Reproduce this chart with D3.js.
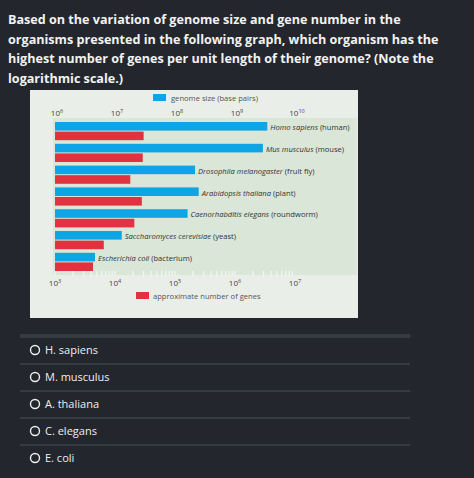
<!DOCTYPE html><html><head><meta charset="utf-8"><script src="https://cdn.jsdelivr.net/npm/d3@7"></script>
<style>body{margin:0;background:#23272d;font-family:"Open Sans",sans-serif}</style></head><body>
<svg id="c" width="474" height="478"></svg>
<script>
const organisms=["Homo sapiens","Mus musculus","Drosophila melanogaster","Arabidopsis thaliana","Caenorhabditis elegans","Saccharomyces cerevisiae","Escherichia coli"];
const common=["human","mouse","fruit fly","plant","roundworm","yeast","bacterium"];
const genomeSize=[3.2e9,2.7e9,2e8,2.3e8,1.5e8,1.2e7,4.3e6];
const geneCount=[3e4,2.9e4,1.8e4,2.8e4,2.1e4,6.5e3,4.3e3];
const topTicks=[1e6,1e7,1e8,1e9,1e10];
const bottomTicks=[1e3,1e4,1e5,1e6,1e7];
const options=["H. sapiens","M. musculus","A. thaliana","C. elegans","E. coli"];
const titleLines=["Based on the variation of genome size and gene number in the","organisms presented in the following graph, which organism has the","highest number of genes per unit length of their genome? (Note the","logarithmic scale.)"];

const svg=d3.select("#c");
svg.selectAll("text.t").data(titleLines).join("text").attr("x",8).attr("y",(d,i)=>24+i*19.5)
 .attr("fill","#f2f2f2").attr("font-size",12.6).attr("font-weight","bold").text(d=>d);
svg.append("rect").attr("x",30).attr("y",90).attr("width",328).attr("height",228).attr("fill","#e9eee9");
svg.append("rect").attr("x",53).attr("y",118).attr("width",304).attr("height",157).attr("fill","#d9e6d8");
const xTop=d3.scaleLog().domain([1e6,1e10]).range([57,297]);
const xBot=d3.scaleLog().domain([1e3,1e7]).range([55,295]);
const y=d3.scaleBand().domain(organisms).range([122,272]).paddingInner(0.12);
const sup=d=>{const e=Math.round(Math.log10(d));return e;};
const tg=svg.append("g").attr("font-size",8).attr("fill","#444");
topTicks.forEach(t=>{const g=tg.append("text").attr("x",xTop(t)).attr("y",116).attr("text-anchor","middle").attr("fill","#444");g.append("tspan").text("10");g.append("tspan").attr("dy",-3).attr("font-size",5.5).text(sup(t));});
bottomTicks.forEach(t=>{const g=tg.append("text").attr("x",xBot(t)).attr("y",286).attr("text-anchor","middle").attr("fill","#444");g.append("tspan").text("10");g.append("tspan").attr("dy",-3).attr("font-size",5.5).text(sup(t));});
// minor ticks at bottom
const minor=[];for(let e=3;e<7;e++)for(let k=1;k<10;k++)minor.push(k*10**e);
svg.selectAll("line.m").data(minor).join("line").attr("x1",d=>xBot(d)).attr("x2",d=>xBot(d)).attr("y1",271).attr("y2",276).attr("stroke","#f4f8f4").attr("stroke-width",1.2);
const bh=y.bandwidth()/2;
svg.selectAll("rect.g").data(organisms).join("rect").attr("x",xTop(1e6)-2).attr("y",d=>y(d)).attr("height",bh-1)
 .attr("width",(d,i)=>xTop(genomeSize[i])-xTop(1e6)+2).attr("fill","#0ea5e6");
svg.selectAll("rect.n").data(organisms).join("rect").attr("x",xBot(1e3)).attr("y",d=>y(d)+bh).attr("height",bh-1)
 .attr("width",(d,i)=>xBot(geneCount[i])-xBot(1e3)).attr("fill","#e0323f");
organisms.forEach((o,i)=>{const t=svg.append("text").attr("x",xTop(genomeSize[i])+3).attr("y",y(o)+bh-1.5).attr("font-size",7.6).attr("fill","#333");
 t.append("tspan").attr("font-style","italic").text(o);t.append("tspan").text(" ("+common[i]+")");});
svg.append("rect").attr("x",153).attr("y",94).attr("width",13).attr("height",7).attr("fill","#0ea5e6");
svg.append("text").attr("x",171).attr("y",101).attr("font-size",7.6).attr("fill","#555").text("genome size (base pairs)");
svg.append("rect").attr("x",136).attr("y",292).attr("width",13).attr("height",7).attr("fill","#e0323f");
svg.append("text").attr("x",153).attr("y",299).attr("font-size",7.6).attr("fill","#555").text("approximate number of genes");
// options
const oy=d3.scalePoint().domain(options).range([350,458]);
options.forEach(o=>{svg.append("line").attr("x1",20).attr("x2",410).attr("y1",oy(o)-13).attr("y2",oy(o)-13).attr("stroke","#4a4f56");
 svg.append("circle").attr("cx",35).attr("cy",oy(o)).attr("r",4.5).attr("fill","none").attr("stroke","#eee").attr("stroke-width",1.4);
 svg.append("text").attr("x",45).attr("y",oy(o)+4).attr("font-size",11).attr("fill","#eee").text(o);});
svg.append("line").attr("x1",20).attr("x2",410).attr("y1",335).attr("y2",335).attr("stroke","#4a4f56");
</script></body></html>
